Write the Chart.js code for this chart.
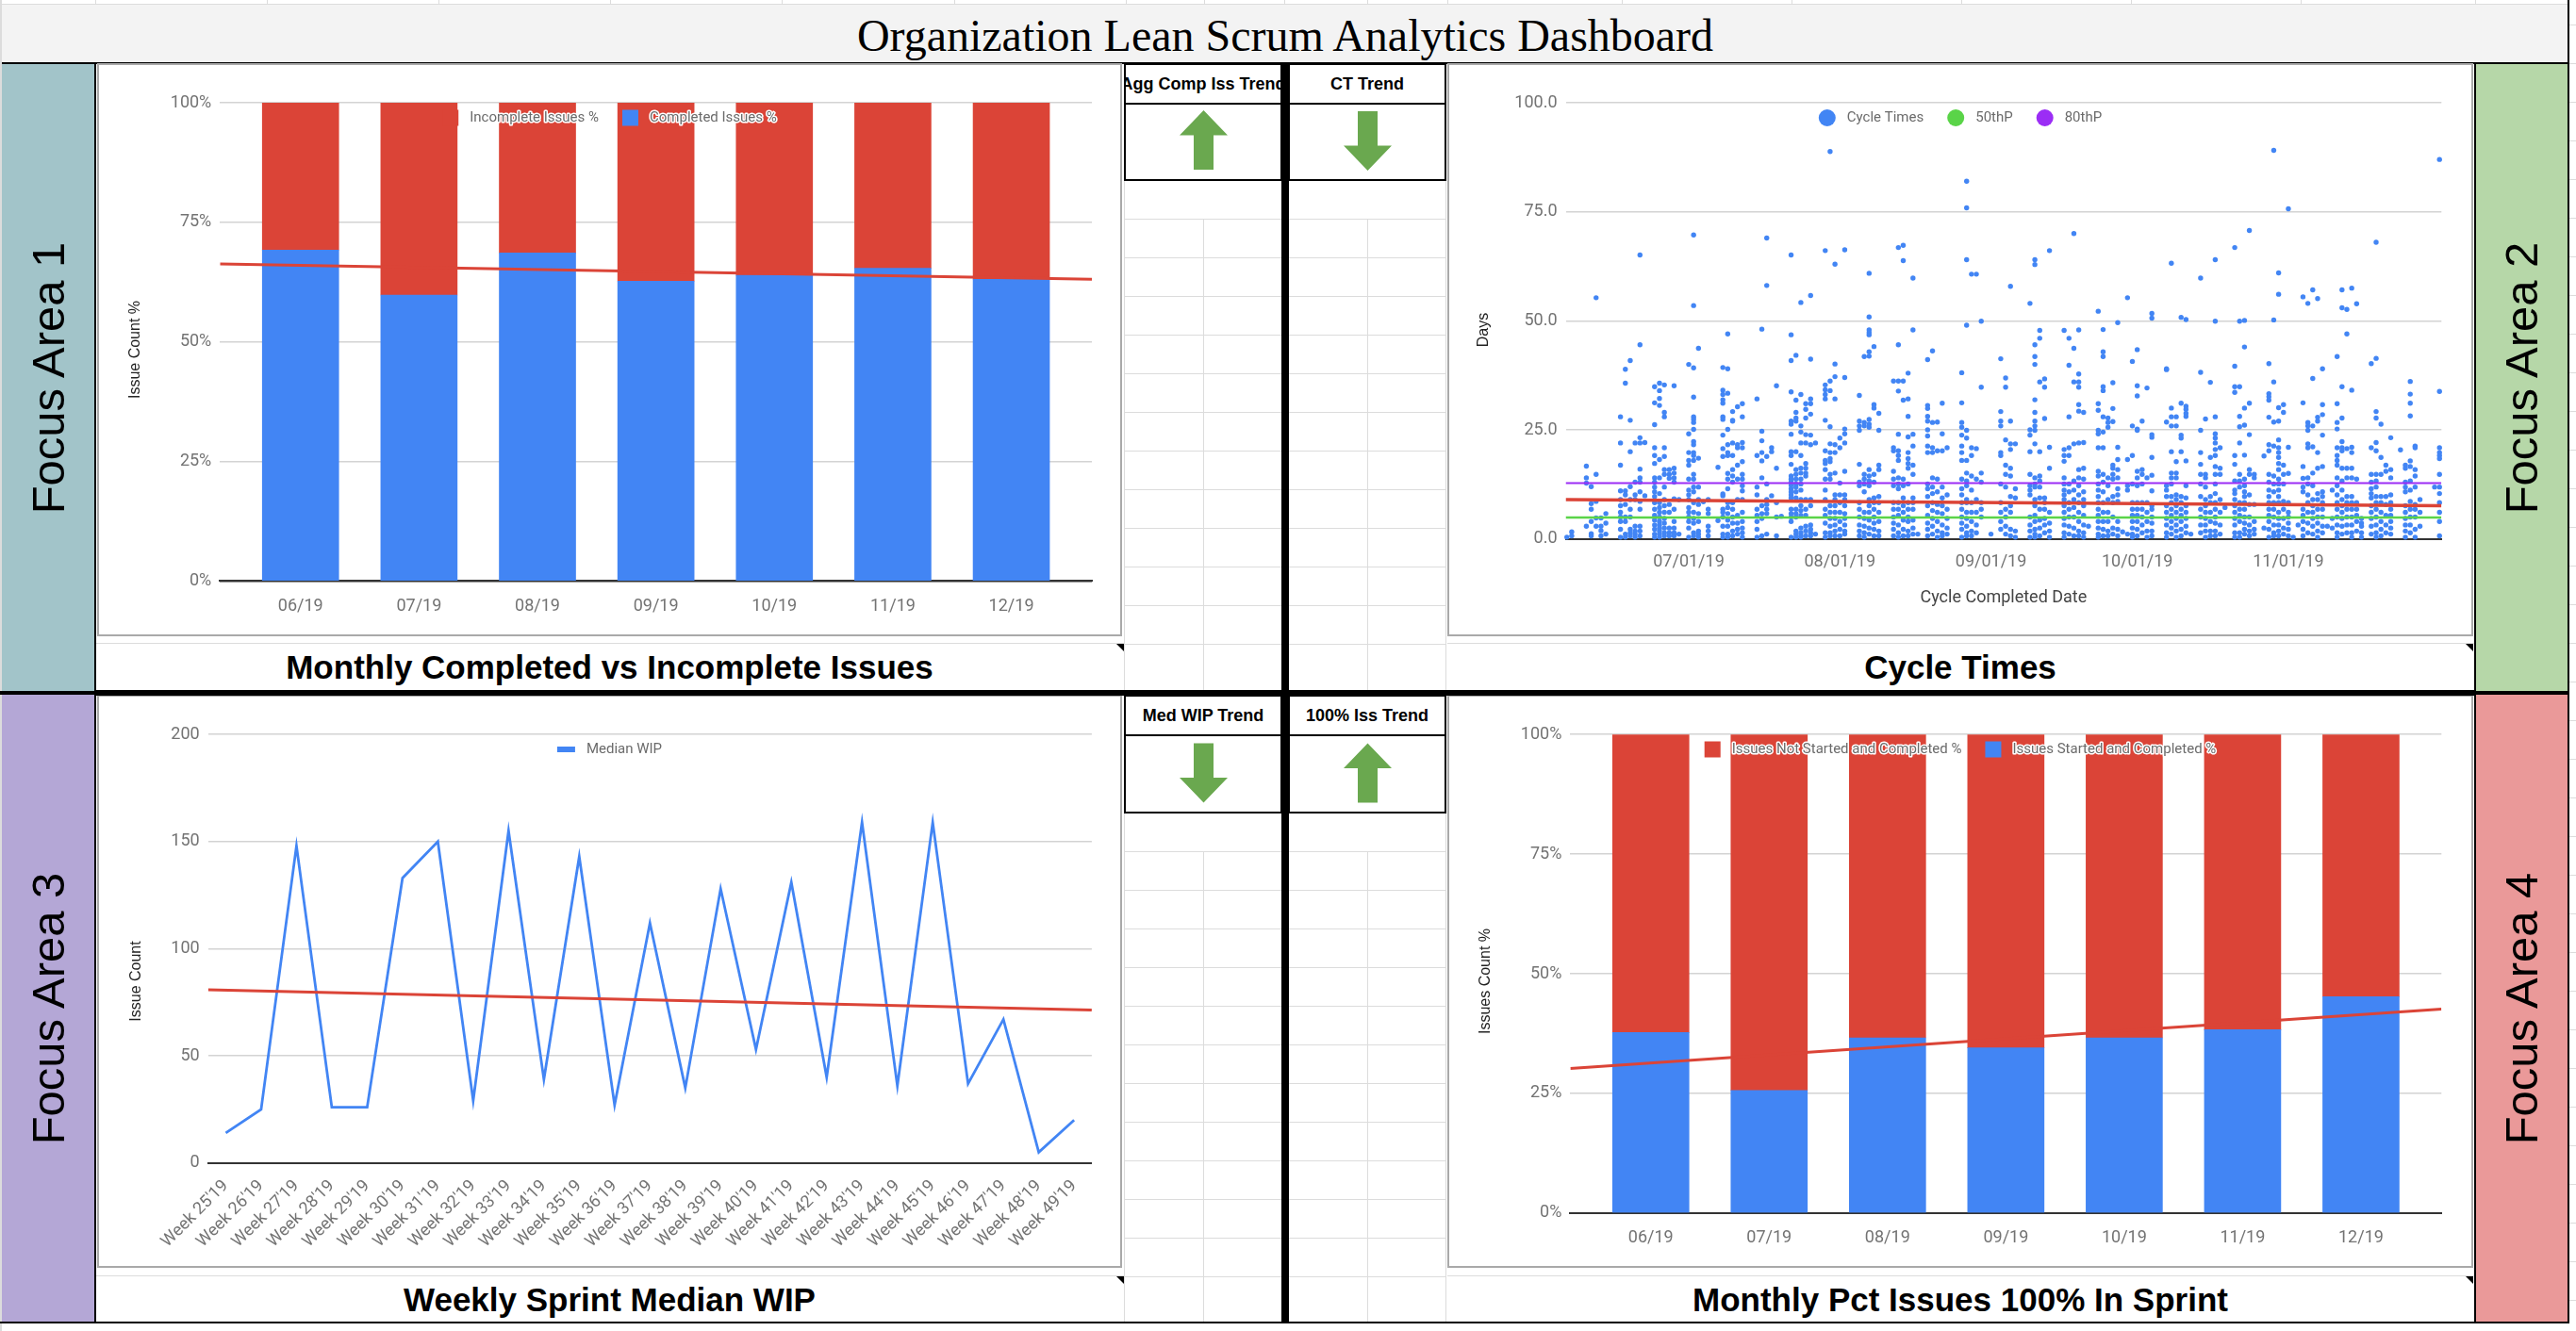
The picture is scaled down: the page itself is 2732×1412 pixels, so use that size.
<!DOCTYPE html>
<html>
<head>
<meta charset="utf-8">
<title>Organization Lean Scrum Analytics Dashboard</title>
<script src="https://cdn.jsdelivr.net/npm/chart.js@4.4.1/dist/chart.umd.min.js"></script>
<style>
  html, body { margin:0; padding:0; background:#fff; }
  #page { position:relative; width:2732px; height:1412px; overflow:hidden; background:#fff; font-family:'Liberation Sans', Arial, sans-serif; }
  .a { position:absolute; box-sizing:border-box; }
  .blk { background:#000; }
  .gl { background:#dcdcdc; }
  .focus { display:flex; align-items:center; justify-content:center; }
  .focus span { display:block; transform:rotate(-90deg); white-space:nowrap; font-size:49px; color:#000; }
  .cbox { border:2px solid #a9a9a9; background:#fff; }
  .ctitle { font-weight:bold; font-size:35px; color:#000; display:flex; align-items:center; justify-content:center; white-space:nowrap; }
  .tbox { border:2px solid #000; background:#fff; }
  .thead { position:absolute; left:0; top:0; right:0; height:42px; display:flex; align-items:center; justify-content:center; overflow:hidden; white-space:nowrap; font-weight:bold; font-size:18px; border-bottom:2px solid #000; box-sizing:border-box; }
  .tri { width:0; height:0; border-top:8px solid #000; border-left:8px solid transparent; }
  canvas { position:absolute; }
</style>
</head>
<body>
<div id="page">
  <!-- title band -->
  <div class="a gl" style="left:0;top:4px;width:2725px;height:1px;"></div>
  <div class="a" style="left:2px;top:5px;width:2722px;height:61px;background:#f3f3f3;"></div>
  <div class="a" style="left:2px;top:7px;width:2722px;height:61px;line-height:61px;text-align:center;font-family:'Liberation Serif',serif;font-size:48px;color:#000;">Organization Lean Scrum Analytics Dashboard</div>
  <div class="a blk" style="left:0;top:66px;width:2725px;height:2px;"></div>

  <!-- focus columns -->
  <div class="a focus" style="left:2px;top:68px;width:98px;height:665px;background:#a2c4c9;"><span>Focus Area 1</span></div>
  <div class="a focus" style="left:2px;top:737px;width:98px;height:665px;background:#b4a7d6;"><span>Focus Area 3</span></div>
  <div class="a focus" style="left:2626px;top:68px;width:97px;height:665px;background:#b6d7a8;"><span>Focus Area 2</span></div>
  <div class="a focus" style="left:2626px;top:737px;width:97px;height:665px;background:#ea9999;"><span>Focus Area 4</span></div>
  <div class="a gl" style="left:0;top:0;width:2px;height:1412px;"></div>
  <div class="a blk" style="left:100px;top:66px;width:2px;height:1338px;"></div>
  <div class="a blk" style="left:2624px;top:66px;width:2px;height:1338px;"></div>
  <div class="a blk" style="left:2723px;top:0;width:2px;height:1404px;"></div>
  <div class="a blk" style="left:0;top:733px;width:102px;height:4px;"></div>
  <div class="a blk" style="left:2624px;top:733px;width:101px;height:4px;"></div>

  <!-- chart boxes -->
  <div class="a cbox" style="left:103px;top:67px;width:1087px;height:608px;"></div>
  <div class="a cbox" style="left:1535px;top:67px;width:1088px;height:608px;"></div>
  <div class="a cbox" style="left:103px;top:737px;width:1087px;height:608px;"></div>
  <div class="a cbox" style="left:1535px;top:737px;width:1088px;height:608px;"></div>
  <canvas id="c1" width="1083" height="604" style="left:105px;top:69px;width:1083px;height:604px;"></canvas>
  <canvas id="c2" width="1084" height="604" style="left:1537px;top:69px;width:1084px;height:604px;"></canvas>
  <canvas id="c3" width="1083" height="604" style="left:105px;top:739px;width:1083px;height:604px;"></canvas>
  <canvas id="c4" width="1084" height="604" style="left:1537px;top:739px;width:1084px;height:604px;"></canvas>

  <!-- chart title rows -->
  <div class="a gl" style="left:102px;top:682px;width:1090px;height:1px;"></div>
  <div class="a gl" style="left:1535px;top:682px;width:1089px;height:1px;"></div>
  <div class="a gl" style="left:102px;top:1353px;width:1090px;height:1px;"></div>
  <div class="a gl" style="left:1535px;top:1353px;width:1089px;height:1px;"></div>
  <div class="a ctitle" style="left:103px;top:684px;width:1087px;height:48px;">Monthly Completed vs Incomplete Issues</div>
  <div class="a ctitle" style="left:1535px;top:684px;width:1088px;height:48px;">Cycle Times</div>
  <div class="a ctitle" style="left:103px;top:1355px;width:1087px;height:47px;">Weekly Sprint Median WIP</div>
  <div class="a ctitle" style="left:1535px;top:1355px;width:1088px;height:47px;">Monthly Pct Issues 100% In Sprint</div>
  <div class="a tri" style="left:1184px;top:683px;"></div>
  <div class="a tri" style="left:2615px;top:683px;"></div>
  <div class="a tri" style="left:1184px;top:1354px;"></div>
  <div class="a tri" style="left:2615px;top:1354px;"></div>

  <!-- middle spreadsheet grid (filled by script) -->
  <div id="grid"></div>

  <!-- trend boxes -->
  <div class="a tbox" style="left:1192px;top:67px;width:168px;height:125px;"><div class="thead">Agg Comp Iss Trend</div></div>
  <div class="a tbox" style="left:1366px;top:67px;width:168px;height:125px;"><div class="thead">CT Trend</div></div>
  <div class="a tbox" style="left:1192px;top:737px;width:168px;height:126px;"><div class="thead">Med WIP Trend</div></div>
  <div class="a tbox" style="left:1366px;top:737px;width:168px;height:126px;"><div class="thead">100% Iss Trend</div></div>
  <svg class="a" style="left:0;top:0;" width="2732" height="1412" id="arrows"></svg>

  <!-- thick dividers -->
  <div class="a blk" style="left:1359px;top:66px;width:8px;height:1338px;"></div>
  <div class="a blk" style="left:100px;top:732px;width:2526px;height:6px;"></div>
  <div class="a blk" style="left:0;top:1402px;width:2725px;height:2px;"></div>
</div>

<script>
// ---------------- DATA ----------------
const months = ['06/19','07/19','08/19','09/19','10/19','11/19','12/19'];
const completedPct  = [69.2, 59.8, 68.6, 62.7, 63.9, 65.4, 63.1];
const incompletePct = [30.8, 40.2, 31.4, 37.3, 36.1, 34.6, 36.9];
const completedTrend = [66.3, 63.1];

const startedPct    = [37.7, 25.6, 36.6, 34.5, 36.6, 38.3, 45.2];
const notStartedPct = [62.3, 74.4, 63.4, 65.5, 63.4, 61.7, 54.8];
const startedTrend  = [30.2, 42.6];

const weeks = ["Week 25'19","Week 26'19","Week 27'19","Week 28'19","Week 29'19","Week 30'19","Week 31'19",
  "Week 32'19","Week 33'19","Week 34'19","Week 35'19","Week 36'19","Week 37'19","Week 38'19","Week 39'19",
  "Week 40'19","Week 41'19","Week 42'19","Week 43'19","Week 44'19","Week 45'19","Week 46'19","Week 47'19",
  "Week 48'19","Week 49'19"];
const medianWip = [14, 25, 148, 26, 26, 133, 150, 29, 155, 39, 143, 27, 112, 35, 128, 53, 131, 40, 159, 36, 159, 37, 67, 5, 20];
const wipTrend = [80.8, 71.4];

const ctTickLabels = ['07/01/19','08/01/19','09/01/19','10/01/19','11/01/19'];
const ctP50 = 4.9;
const ctP80 = 12.8;
const ctTrend = [9.0, 7.6];

// cycle times: [day of month, [days...]]
const ctJun = [
 [6,[0.4]],[7,[1.6,0.7]],[10,[16.7,14.0,12.8,2.9]],[11,[12.0,8.1,6.8,4.0,1.2,0.7]],
 [12,[55.3,14.8,8.6,4.8,2.9]],[13,[4.8,2.9,1.9,0.7]],[14,[5.8,3.6,1.1]],
 [17,[28.0,22.0,16.9,11.0,9.0,7.6,6.1,5.0,4.0,2.2,0.4]],
 [18,[38.9,35.7,11.0,10.1,7.9,5.0,4.0,1.1,0.4]],
 [19,[40.9,27.2,20.0,12.0,9.0,6.8,5.0,2.2,1.4,0.7]],
 [20,[22.0,13.0,10.1,9.0,2.9,1.8,1.1,0.4]],
 [21,[65.1,44.5,23.2,22.0,16.0,14.0,13.0,10.8,8.6,6.8,2.9,1.8,0.7]],
 [22,[22.1,9.9]],
 [24,[34.9,31.2,26.2,20.9,19.1,17.3,14.0,13.0,11.9,10.8,9.7,8.3,6.8,5.4,4.3,3.2,2.2,1.1,0.4]],
 [25,[35.7,34.0,32.2,30.6,18.2,14.0,10.4,8.3,7.2,6.1,5.0,4.0,3.2,2.5,1.8,1.1,0.4]],
 [26,[35.3,29.0,28.0,20.9,18.9,15.9,14.8,11.9,9.0,7.6,6.1,4.7,3.6,2.5,1.4,0.7]],
 [27,[15.9,14.8,13.9,7.9,6.1,2.5,1.4,0.7]],
 [28,[35.1,16.2,15.1,14.0,13.0,9.2,6.8,4.0,2.5,1.4,0.7]],
 [29,[9.0,1.1]]
];
const ctJul = [
 [1,[40.0,24.1,19.8,18.0,16.9,13.7,11.2,10.1,9.0,7.2,6.1,5.0,4.0,2.5,0.4]],
 [2,[69.7,53.5,39.2,32.5,28.0,27.4,26.7,25.1,22.3,21.6,19.8,19.1,18.0,14.8,13.7,11.9,10.8,8.3,6.1,4.7,3.6,1.4,0.7]],
 [3,[43.7,18.5,11.9,9.0,7.9,5.8,4.0,1.8,1.1,0.4]],
 [4,[8.5]],[5,[9.0,6.8,5.8,2.9,1.8,0.7]],[7,[16.4,4.2]],
 [8,[39.3,34.1,33.1,31.9,31.1,28.0,27.4,23.8,20.7,18.9,10.3,9.9,6.8,6.1,5.0,2.9,1.1,0.4]],
 [9,[47.0,39.0,33.4,25.1,21.6,19.8,19.1,15.0,13.7,11.5,8.3,7.2,5.8,4.3,2.9,1.1,0.4]],
 [10,[29.2,27.2,27.0,22.0,19.1,15.9,14.4,13.0,8.3,6.8,5.0,3.6,1.8,0.7]],
 [11,[30.3,21.6,20.9,16.9,13.7,9.0,5.4,3.6,2.2,1.1]],
 [12,[31.0,28.0,22.1,20.9,17.7,14.8,13.7,12.2,11.0,9.0,6.1,4.0,2.5,1.4,0.4]],
 [15,[32.1,19.1,11.9,10.1,6.8,5.4,4.0,2.2,0.4]],
 [16,[48.1,24.7,22.5,19.8,17.9,14.0,7.6,5.8,4.7,0.7]],
 [17,[69.0,58.1,18.9,12.6,9.0,7.9,6.8,5.8,1.1]],
 [18,[20.9,20.0,9.9]],[19,[35.1,16.2,8.3,5.0,0.7]],[20,[5.2]],
 [22,[65.1,46.8,40.9,33.7,27.0,26.3,24.0,20.0,19.1,17.1,14.4,13.7,13.0,12.3,11.5,10.8,10.1,9.4,6.8,5.8,5.0,4.0,0.4]],
 [23,[42.1,31.8,29.0,27.7,27.0,20.0,15.9,14.8,13.7,12.6,11.9,10.8,9.4,6.8,5.8,5.0,1.8,1.1,0.4]],
 [24,[54.2,33.1,25.9,24.5,22.0,19.1,16.2,15.1,13.7,12.6,11.2,9.0,7.6,6.5,5.4,2.5,1.4,0.7,0.4]],
 [25,[31.0,29.7,27.7,23.9,22.0,17.3,16.2,15.1,14.4,9.0,6.8,5.4,2.9,1.8,0.7]],
 [26,[55.8,41.2,32.1,31.0,28.6,23.8,21.6,9.0,7.6,3.2,2.2,1.4,0.7]],
 [27,[22.0,1.1]],
 [29,[66.1,35.3,34.2,33.1,32.1,27.2,20.2,18.0,17.3,15.9,13.7,11.2,9.0,6.8,5.4,3.6,1.4,0.4]],
 [30,[88.8,36.2,34.0,25.7,21.8,19.8,18.4,17.7,14.8,13.7,7.6,6.1,4.7,2.9,1.4,0.7]],
 [31,[63.0,40.1,37.2,32.1,21.6,19.8,15.1,10.1,9.0,7.6,6.1,4.7,3.2,1.8,0.7]]
];
const ctAug = [
 [1,[23.1,20.9,12.8,10.1,8.3,6.1,4.0,2.2,0.7]],
 [2,[66.3,37.0,25.2,24.1,22.0,15.5,10.1,9.0,7.6,5.8,4.7,3.2,1.8,1.1]],
 [5,[32.9,27.0,25.9,24.9,17.1,13.0,12.2,8.3,6.8,5.0,3.2,1.8,0.7]],
 [6,[41.8,26.7,25.9,14.8,13.7,12.6,10.8,6.1,4.7,2.9,1.4,0.4]],
 [7,[60.9,50.9,47.9,47.3,46.8,42.9,41.9,27.4,26.3,25.6,15.9,14.4,13.3,12.2,9.0,7.6,6.1,4.3,2.5,1.1]],
 [8,[44.1,30.8,30.0,14.8,13.0,9.4,8.3,6.8,5.0,3.6,2.2,0.7]],
 [9,[28.8,24.9,16.9,15.9,9.7,8.3,6.1,4.0,1.8,0.7]],
 [12,[36.2,20.9,20.2,15.5,13.7,12.2,8.3,6.8,5.0,3.6,2.2,0.7]],
 [13,[66.8,44.5,36.2,33.9,24.0,20.2,19.1,18.0,14.0,12.6,11.5,8.3,6.8,5.4,3.2,1.4,0.4]],
 [14,[67.3,63.8,36.2,31.8,13.7,12.2,9.4,7.6,6.1,4.3,2.2,0.7]],
 [15,[38.0,32.1,28.1,23.4,19.8,18.4,17.3,16.2,12.6,8.3,6.8,5.0,4.0,1.8,0.7]],
 [16,[59.8,47.9,24.0,21.3,16.9,14.8,9.4,8.3,6.8,4.3,2.5,1.1]],
 [17,[1.1]],
 [19,[41.1,30.6,29.9,28.1,27.0,25.0,23.6,21.3,19.8,12.6,11.5,9.7,7.6,5.4,3.6,2.2,0.7]],
 [20,[43.1,26.7,20.9,19.8,14.0,11.9,10.4,8.3,6.5,4.7,2.9,1.1]],
 [21,[26.8,20.2,13.7,10.8,7.9,6.1,4.0,1.8,0.4]],
 [22,[31.1,24.1,20.2,11.9,9.4,7.6,5.8,3.2,1.4,0.7]],
 [23,[20.9,10.1,6.8,4.7,2.5,1.1]],
 [26,[38.1,31.2,26.7,25.6,23.8,21.3,19.8,18.0,13.7,11.5,10.1,8.3,6.8,5.0,3.6,2.2,0.4]],
 [27,[82.0,75.9,64.0,49.0,24.9,23.1,18.0,15.1,13.3,12.2,9.0,8.3,6.1,4.7,2.9,1.4,0.7]],
 [28,[60.7,20.9,19.1,14.4,11.2,8.3,6.1,4.0,1.8,0.7]],
 [29,[60.7,20.7,13.7,9.0,6.1,3.2,1.4]],
 [30,[49.9,34.8,15.1,13.0,8.3,6.8,5.0]]
];
const ctSep = [
 [1,[1.1]],
 [3,[41.3,29.2,27.0,25.9,19.8,19.1,12.6,8.3,6.1,4.0,2.2]],
 [4,[36.9,34.8,22.7,16.9,14.8,11.9,6.8,5.0,2.9,1.1]],
 [5,[57.9,27.0,21.8,20.5,16.2,14.4,9.7,7.6,6.1,2.2,0.7]],
 [6,[21.8,11.5,9.4,1.8,0.4]],
 [9,[54.0,25.0,23.8,20.0,14.8,12.2,11.2,10.1,5.0,3.2,1.8,0.4]],
 [10,[64.0,62.9,44.5,41.8,40.0,31.9,29.0,27.0,25.9,24.9,21.8,14.0,12.6,11.9,9.0,7.6,5.4,4.0,2.2,1.1,0.4]],
 [11,[47.8,46.0,36.0,20.0,14.4,13.3,11.9,9.4,6.8,4.3,2.5,0.7]],
 [12,[36.7,34.8,27.6,9.4,8.3,6.8,4.7,3.2,1.4]],
 [13,[66.1,21.0,16.2,6.1,3.6,1.8,0.4]],
 [16,[47.8,20.5,19.1,17.8,14.0,12.6,11.2,10.1,9.0,7.6,6.1,4.7,3.2,1.4,0.4]],
 [17,[46.0,39.8,28.0,20.9,19.1,12.6,10.8,8.3,6.8,5.0,2.9,1.1]],
 [18,[70.0,43.7,36.0,21.8,13.3,11.2,9.0,7.2,5.0,2.5,0.7]],
 [19,[47.9,37.8,36.0,34.8,30.8,29.3,22.0,15.9,14.0,12.2,10.1,8.3,6.1,4.0,1.8,0.7]],
 [20,[29.0,22.1,16.2,13.7,10.8,9.0,7.6,5.4,3.2,1.4,0.4]],
 [21,[2.9]],
 [23,[52.2,31.0,29.5,24.9,24.1,20.9,15.5,14.4,12.6,11.2,9.7,8.3,6.8,5.4,4.0,2.5,1.1,0.4]],
 [24,[48.0,42.9,41.8,34.9,34.0,28.0,24.5,20.9,14.8,13.0,10.8,8.3,6.1,4.0,2.2,0.7]],
 [25,[27.7,26.7,25.6,14.0,12.2,9.0,6.1,4.0,1.8,0.7]],
 [26,[35.8,29.9,26.9,16.9,16.2,14.8,13.7,9.7,8.3,5.0,2.5,1.1]],
 [27,[49.6,21.0,18.2,15.9,14.0,11.5,10.1,8.6,4.0,2.2,0.7]],
 [28,[1.6]],
 [29,[55.3,18.2,12.2,11.2,1.1]],
 [30,[40.7,25.9,19.1,12.6,8.3,6.8,5.4,4.0,2.5,1.1,0.4]]
];
const ctOct = [
 [1,[43.4,35.1,32.8,25.2,24.9,15.5,14.0,12.2,8.3,6.8,5.4,4.0,2.2,0.7]],
 [2,[27.0,15.9,14.8,12.6,8.3,6.8,5.0,3.2,1.4]],
 [3,[34.6,14.0,8.3,6.1,4.0,1.8,0.4]],
 [4,[51.7,50.6,23.9,23.3,18.7,14.6,11.0,7.6,6.8,5.0,3.6,1.8,0.7]],
 [7,[39.0,38.8,26.8,12.2,11.2,9.7,7.6,6.1,4.7,3.2,1.4,0.4]],
 [8,[63.2,30.0,28.0,25.9,20.0,15.1,14.0,12.6,9.7,8.3,6.8,5.4,4.0,2.5,1.1]],
 [9,[28.0,25.9,17.7,15.1,14.0,10.1,9.0,7.6,6.1,4.7,3.2,1.8,0.4]],
 [10,[50.8,31.1,23.8,23.1,20.0,9.7,8.3,6.8,5.4,4.0,2.2,0.7]],
 [11,[50.3,30.4,29.7,28.8,28.1,17.9,12.2,9.4,7.6,6.1,4.7,2.9,1.4]],
 [12,[1.1]],
 [14,[59.8,38.2,24.9,19.8,17.1,14.8,12.6,9.7,6.8,5.0,3.2,1.4]],
 [15,[27.5,14.8,14.0,11.9,9.0,7.6,6.1,4.7,3.2,1.8,0.4]],
 [16,[35.9,18.7,9.7,8.3,6.1,4.0,1.8,0.7]],
 [17,[64.0,49.9,28.0,24.1,23.1,22.0,20.5,19.1,16.6,14.8,12.6,10.4,8.3,6.8,5.0,3.6,1.8,0.7]],
 [18,[20.9,16.2,14.8,9.0,6.1,3.2,1.1]],
 [19,[7.2]],
 [21,[66.8,39.6,34.9,33.6,19.1,17.1,13.3,11.2,10.4,9.0,7.6,6.1,4.7,3.2,1.4,0.4]],
 [22,[49.9,34.9,28.1,25.7,22.0,14.8,13.3,11.9,8.3,6.8,5.4,4.0,1.4,0.4]],
 [23,[50.1,44.0,30.0,26.1,19.2,13.7,12.2,10.8,9.7,8.3,6.8,5.0,3.6,2.2,1.1]],
 [24,[70.7,31.1,23.9,15.9,14.8,10.1,7.9,5.0,3.2,1.8,0.7]],
 [25,[14.8,14.0,7.9,4.0,2.2,1.1]],
 [27,[19.0,2.5]],
 [28,[40.2,33.3,32.6,31.8,27.9,21.6,20.2,14.8,13.0,11.2,9.7,8.3,6.8,5.4,4.0,2.2,0.4]],
 [29,[89.1,50.2,36.0,26.8,21.3,14.4,12.6,10.8,8.3,6.8,5.0,3.2,1.4,0.7]],
 [30,[61.0,56.1,30.1,27.0,22.7,20.9,19.8,18.7,17.3,15.9,13.7,12.6,11.2,9.7,8.3,6.1,4.7,3.2,1.8,0.7]],
 [31,[30.8,29.0,16.9,14.8,12.6,8.6,6.8,4.7,2.5,1.1]]
];
const ctNov = [
 [1,[75.7,21.0,15.0,8.3,6.1,5.0,3.6,2.2,0.7]],
 [2,[0.4]],[3,[3.2]],
 [4,[55.5,31.2,16.6,13.9,11.9,10.8,6.8,5.4,4.0,2.2,0.7]],
 [5,[54.0,26.7,25.9,24.9,21.8,20.9,14.0,12.6,10.1,8.3,6.1,3.6,1.4]],
 [6,[57.1,36.8,25.9,21.1,15.1,12.2,9.0,7.6,6.1,4.7,2.9,1.1]],
 [7,[55.1,27.9,27.0,19.8,16.2,10.4,9.0,6.8,5.0,3.6,1.8,0.4]],
 [8,[39.0,30.8,28.5,23.8,16.6,10.8,9.7,8.3,6.8,5.0,2.9,1.4]],
 [9,[2.9]],[10,[11.2,4.7,2.5]],
 [11,[41.8,31.0,26.7,25.2,20.9,19.1,18.0,16.9,14.0,12.2,10.1,8.3,6.8,5.0,3.2,1.4,0.4]],
 [12,[57.1,53.0,34.9,27.7,22.3,20.9,20.2,16.2,13.3,11.2,9.0,7.6,6.1,4.7,2.9,1.1]],
 [13,[52.6,47.0,20.7,16.2,14.0,9.7,8.3,6.8,5.0,3.2,1.4]],
 [14,[57.5,34.1,21.0,19.8,16.2,14.0,9.7,8.3,6.8,5.0,3.2,1.4,0.4]],
 [15,[53.9,13.7,8.3,6.8,5.4,4.0,1.8]],
 [16,[4.7,3.6,2.9,1.4,0.4]],
 [18,[40.2,20.9,14.8,13.0,11.5,10.4,9.4,7.6,6.1,4.7,2.9,1.1]],
 [19,[68.0,41.4,29.2,27.7,22.1,20.2,14.8,13.3,11.9,9.7,8.3,6.8,5.0,3.2,1.4,0.4]],
 [20,[26.3,18.7,14.8,9.7,8.3,6.1,4.0,2.2,0.7]],
 [21,[16.9,15.5,9.7,7.9,5.4,3.2,1.4]],
 [22,[23.2,15.9,14.0,10.1,8.3,6.8,5.4,4.0,2.5,1.1]],
 [24,[20.4]],
 [25,[16.9,16.2,13.0,11.9,10.8,7.6,6.1,4.7,3.2,1.8,0.4]],
 [26,[36.1,33.2,31.1,28.2,17.9,16.6,13.3,11.2,8.6,6.8,5.0,3.2,1.4]],
 [27,[21.3,20.9,15.9,14.4,11.9,7.9,6.8,5.0,2.2,0.4]],
 [28,[9.0,6.1,2.9]]
];
const ctDec = [
 [1,[11.9]],
 [2,[87.0,33.8,20.9,19.8,19.1,18.4,14.8,11.9,10.4,8.3,6.1,4.0,0.7]]
];

// ---------------- STYLE ----------------
const BLUE = '#4285f4', RED = '#db4437', GREEN = '#5ad448', PURPLE = '#9b2df5';
const GRID = '#d3d3d3', TICK = '#737373';
const tickFont = { family: 'Roboto', size: 18 };

// ---------------- LAYOUT DECORATION ----------------
(function buildGrid() {
  const g = document.getElementById('grid');
  const add = (l, t, w, h) => { const d = document.createElement('div'); d.className = 'a gl'; d.style.cssText = `left:${l}px;top:${t}px;width:${w}px;height:${h}px;`; g.appendChild(d); };
  const topRows = [232,273,314,355,396,437,478,519,560,601,642,683];
  const botRows = [903,944,985,1026,1067,1108,1149,1190,1231,1272,1313,1354];
  [...topRows, ...botRows].forEach(y => { add(1192, y, 167, 1); add(1367, y, 167, 1); });
  [1276, 1450].forEach(x => { add(x, 232, 1, 500); add(x, 903, 1, 499); });
  [1192, 1533].forEach(x => { add(x, 191, 1, 541); add(x, 862, 1, 540); });
  for (let y = 26; y < 1412; y += 41) add(2725, y, 7, 1);
  [101, 283, 465, 647, 829, 1012, 1194, 1277, 1362, 1450, 1535, 1720, 1900, 2080, 2260, 2440, 2625].forEach(x => add(x, 0, 1, 4));
  const svg = document.getElementById('arrows');
  const up = (cx, cy) => `${cx},${cy-31.5} ${cx+25.5},${cy-5} ${cx+10.5},${cy-5} ${cx+10.5},${cy+31.5} ${cx-10.5},${cy+31.5} ${cx-10.5},${cy-5} ${cx-25.5},${cy-5}`;
  const down = (cx, cy) => `${cx-10.5},${cy-31.5} ${cx+10.5},${cy-31.5} ${cx+10.5},${cy+5} ${cx+25.5},${cy+5} ${cx},${cy+31.5} ${cx-25.5},${cy+5} ${cx-10.5},${cy+5}`;
  svg.innerHTML = `<polygon fill="#6aa84f" points="${up(1276.5,148.5)}"/><polygon fill="#6aa84f" points="${down(1450.5,149.5)}"/>` +
                  `<polygon fill="#6aa84f" points="${down(1276.5,820)}"/><polygon fill="#6aa84f" points="${up(1450.5,820)}"/>`;
})();

// legend / axis titles drawn Google-Charts style
function deco(cfg) {
  return {
    id: 'deco',
    afterDatasetsDraw(chart) {
      const ctx = chart.ctx;
      ctx.save();
      if (cfg.legend) {
        ctx.font = '15px Roboto';
        const items = cfg.legend;
        const mw = it => it.shape === 'line' ? 19 : (it.shape === 'circle' ? 18 : 17);
        const tw = items.map(it => ctx.measureText(it.label).width);
        const total = items.reduce((s, it, i) => s + mw(it) + 12 + tw[i], 0) + 25 * (items.length - 1);
        let x = chart.width / 2 - total / 2;
        const y = cfg.legendY;
        items.forEach((it, i) => {
          ctx.fillStyle = it.color;
          if (it.shape === 'circle') { ctx.beginPath(); ctx.arc(x + 9, y, 9, 0, Math.PI * 2); ctx.fill(); }
          else if (it.shape === 'line') ctx.fillRect(x, y - 3, 19, 6);
          else ctx.fillRect(x, y - 8.5, 17, 17);
          x += mw(it) + 12;
          ctx.textAlign = 'left'; ctx.textBaseline = 'middle';
          ctx.lineJoin = 'round'; ctx.lineWidth = 3; ctx.strokeStyle = '#fff';
          ctx.strokeText(it.label, x, y);
          ctx.fillStyle = '#6b6b6b';
          ctx.fillText(it.label, x, y);
          x += tw[i] + 25;
        });
      }
      if (cfg.yTitle) {
        ctx.save();
        ctx.translate(cfg.yTitle.x, cfg.yTitle.y);
        ctx.rotate(-Math.PI / 2);
        ctx.font = '16px "Liberation Sans"';
        ctx.fillStyle = '#222';
        ctx.textAlign = 'center'; ctx.textBaseline = 'middle';
        ctx.fillText(cfg.yTitle.text, 0, 0);
        ctx.restore();
      }
      if (cfg.xTitle) {
        ctx.font = '18px Roboto';
        ctx.fillStyle = '#444';
        ctx.textAlign = 'center'; ctx.textBaseline = 'middle';
        const a = chart.chartArea;
        ctx.fillText(cfg.xTitle.text, (a.left + a.right) / 2, cfg.xTitle.y);
      }
      ctx.restore();
    }
  };
}

const X_MIN = -0.68, X_MAX = 6.68;

function pctBarChart(id, lowVals, highVals, lowLabel, highLabel, trend, yTitle, legendItems, L) {
  return new Chart(document.getElementById(id), {
    data: {
      datasets: [
        { type: 'line', label: 'Trend', data: [{ x: X_MIN, y: trend[0] }, { x: X_MAX, y: trend[1] }],
          borderColor: RED, borderWidth: 3, pointRadius: 0, order: 0, stack: 'trend' },
        { type: 'bar', label: lowLabel, data: lowVals.map((v, i) => ({ x: i, y: v })),
          backgroundColor: BLUE, order: 1, barThickness: 81, stack: 'pct' },
        { type: 'bar', label: highLabel, data: highVals.map((v, i) => ({ x: i, y: v })),
          backgroundColor: RED, order: 1, barThickness: 81, stack: 'pct' }
      ]
    },
    options: {
      responsive: false, animation: false, devicePixelRatio: 1,
      layout: { padding: { top: L.top, right: L.right, left: 0, bottom: 0 } },
      plugins: { legend: { display: false }, tooltip: { enabled: false } },
      scales: {
        x: {
          type: 'linear', min: X_MIN, max: X_MAX, stacked: true, offset: false,
          grid: { display: false, offset: false }, border: { display: true, color: '#333', width: 2 },
          afterBuildTicks: s => { s.ticks = months.map((_, i) => ({ value: i })); },
          ticks: { callback: v => months[v], font: tickFont, color: TICK, padding: 8, maxRotation: 0, autoSkip: false },
          afterFit: s => { s.height = L.xh; }
        },
        y: {
          stacked: true, min: 0, max: 100,
          ticks: { stepSize: 25, callback: v => v + '%', font: tickFont, color: TICK, padding: 9 },
          grid: { color: c => c.tick && c.tick.value === 0 ? '#333' : GRID, lineWidth: 1.5, drawTicks: false },
          border: { display: false },
          afterFit: s => { s.width = L.yw; }
        }
      }
    },
    plugins: [deco({ legend: legendItems, legendY: 56, yTitle: { text: yTitle, x: L.tx, y: 302 } })]
  });
}

function build() {
  // Chart 1
  pctBarChart('c1', completedPct, incompletePct, 'Completed Issues %', 'Incomplete Issues %', completedTrend, 'Issue Count %',
    [{ label: 'Incomplete Issues %', color: RED, shape: 'rect' }, { label: 'Completed Issues %', color: BLUE, shape: 'rect' }],
    { top: 40, right: 30, xh: 56.6, yw: 128.3, tx: 39 });

  // Chart 4
  pctBarChart('c4', startedPct, notStartedPct, 'Issues Started and Completed %', 'Issues Not Started and Completed %', startedTrend, 'Issues Count %',
    [{ label: 'Issues Not Started and Completed %', color: RED, shape: 'rect' }, { label: 'Issues Started and Completed %', color: BLUE, shape: 'rect' }],
    { top: 40.2, right: 31.7, xh: 56.2, yw: 128.4, tx: 38.6 });

  // Chart 2: cycle times scatter
  const dayOf = (m, d) => (Date.UTC(2019, m - 1, d) - Date.UTC(2019, 0, 1)) / 864e5;
  const ctByMonth = [[6, ctJun], [7, ctJul], [8, ctAug], [9, ctSep], [10, ctOct], [11, ctNov], [12, ctDec]];
  const ctPoints = [];
  ctByMonth.forEach(([m, rows]) => rows.forEach(([d, vals]) => vals.forEach(v => ctPoints.push({ x: dayOf(m, d), y: v }))));
  const xs = ctPoints.map(p => p.x);
  const ctMin = Math.min(...xs) - 0.24, ctMax = Math.max(...xs) + 0.4;
  const ctTickDays = ctTickLabels.map(s => { const [m, d] = s.split('/').map(Number); return dayOf(m, d); });
  const hl = v => [{ x: ctMin, y: v }, { x: ctMax, y: v }];

  new Chart(document.getElementById('c2'), {
    type: 'scatter',
    data: {
      datasets: [
        { type: 'line', label: 'Trend', data: [{ x: ctMin, y: ctTrend[0] }, { x: ctMax, y: ctTrend[1] }], borderColor: RED, borderWidth: 3.5, pointRadius: 0, order: 0 },
        { type: 'line', label: '80thP', data: hl(ctP80), borderColor: PURPLE, borderWidth: 2, pointRadius: 0, order: 0 },
        { type: 'line', label: '50thP', data: hl(ctP50), borderColor: GREEN, borderWidth: 2.5, pointRadius: 0, order: 0 },
        { type: 'scatter', label: 'Cycle Times', data: ctPoints, backgroundColor: BLUE, borderWidth: 0, pointRadius: 2.7, order: 1, clip: false }
      ]
    },
    options: {
      responsive: false, animation: false, devicePixelRatio: 1,
      layout: { padding: { top: 40, right: 31.7, left: 0, bottom: 0 } },
      plugins: { legend: { display: false }, tooltip: { enabled: false } },
      scales: {
        x: {
          type: 'linear', min: ctMin, max: ctMax,
          grid: { display: false }, border: { display: true, color: '#333', width: 2 },
          afterBuildTicks: s => { s.ticks = ctTickDays.map(v => ({ value: v })); },
          ticks: { callback: v => ctTickLabels[ctTickDays.indexOf(v)], font: tickFont, color: TICK, padding: 6, maxRotation: 0, autoSkip: false },
          afterFit: s => { s.height = 101.3; }
        },
        y: {
          min: 0, max: 100,
          ticks: { stepSize: 25, callback: v => v.toFixed(1), font: tickFont, color: TICK, padding: 9 },
          grid: { color: c => c.tick && c.tick.value === 0 ? '#333' : GRID, lineWidth: 1.5, drawTicks: false },
          border: { display: false },
          afterFit: s => { s.width = 123.5; }
        }
      }
    },
    plugins: [deco({
      legend: [{ label: 'Cycle Times', color: BLUE, shape: 'circle' }, { label: '50thP', color: GREEN, shape: 'circle' }, { label: '80thP', color: PURPLE, shape: 'circle' }],
      legendY: 56, yTitle: { text: 'Days', x: 37, y: 281 }, xTitle: { text: 'Cycle Completed Date', y: 565.6 }
    })]
  });

  // Chart 3: weekly median WIP
  new Chart(document.getElementById('c3'), {
    type: 'line',
    data: {
      labels: weeks,
      datasets: [
        { label: 'Trend', data: [{ x: -0.5, y: wipTrend[0] }, { x: weeks.length - 0.5, y: wipTrend[1] }], xAxisID: 'xt',
          borderColor: RED, borderWidth: 3, pointRadius: 0, order: 0 },
        { label: 'Median WIP', data: medianWip, borderColor: BLUE, borderWidth: 2.8, pointRadius: 0, tension: 0, order: 1 }
      ]
    },
    options: {
      responsive: false, animation: false, devicePixelRatio: 1,
      layout: { padding: { top: 40.2, right: 30.1, left: 0, bottom: 0 } },
      plugins: { legend: { display: false }, tooltip: { enabled: false } },
      scales: {
        x: {
          type: 'category', offset: true,
          grid: { display: false }, border: { display: true, color: '#333', width: 2 },
          ticks: { font: { family: 'Roboto', size: 18 }, color: TICK, padding: 6, minRotation: 45, maxRotation: 45, autoSkip: false },
          afterFit: s => { s.height = 109.3; }
        },
        xt: { type: 'linear', axis: 'x', position: 'bottom', display: false, min: -0.5, max: weeks.length - 0.5 },
        y: {
          min: 0, max: 200,
          ticks: { stepSize: 50, font: tickFont, color: TICK, padding: 9 },
          grid: { color: c => c.tick && c.tick.value === 0 ? '#333' : GRID, lineWidth: 1.5, drawTicks: false },
          border: { display: false },
          afterFit: s => { s.width = 115.7; }
        }
      }
    },
    plugins: [deco({ legend: [{ label: 'Median WIP', color: BLUE, shape: 'line' }], legendY: 56, yTitle: { text: 'Issue Count', x: 39.2, y: 302 } })]
  });
}

const fontLoads = ['18px Roboto', '15px Roboto', '16px "Liberation Sans"', 'bold 35px "Liberation Sans"', '48px "Liberation Serif"']
  .map(f => document.fonts.load(f).catch(() => null));
Promise.all(fontLoads).then(build, build);
</script>
</body>
</html>
